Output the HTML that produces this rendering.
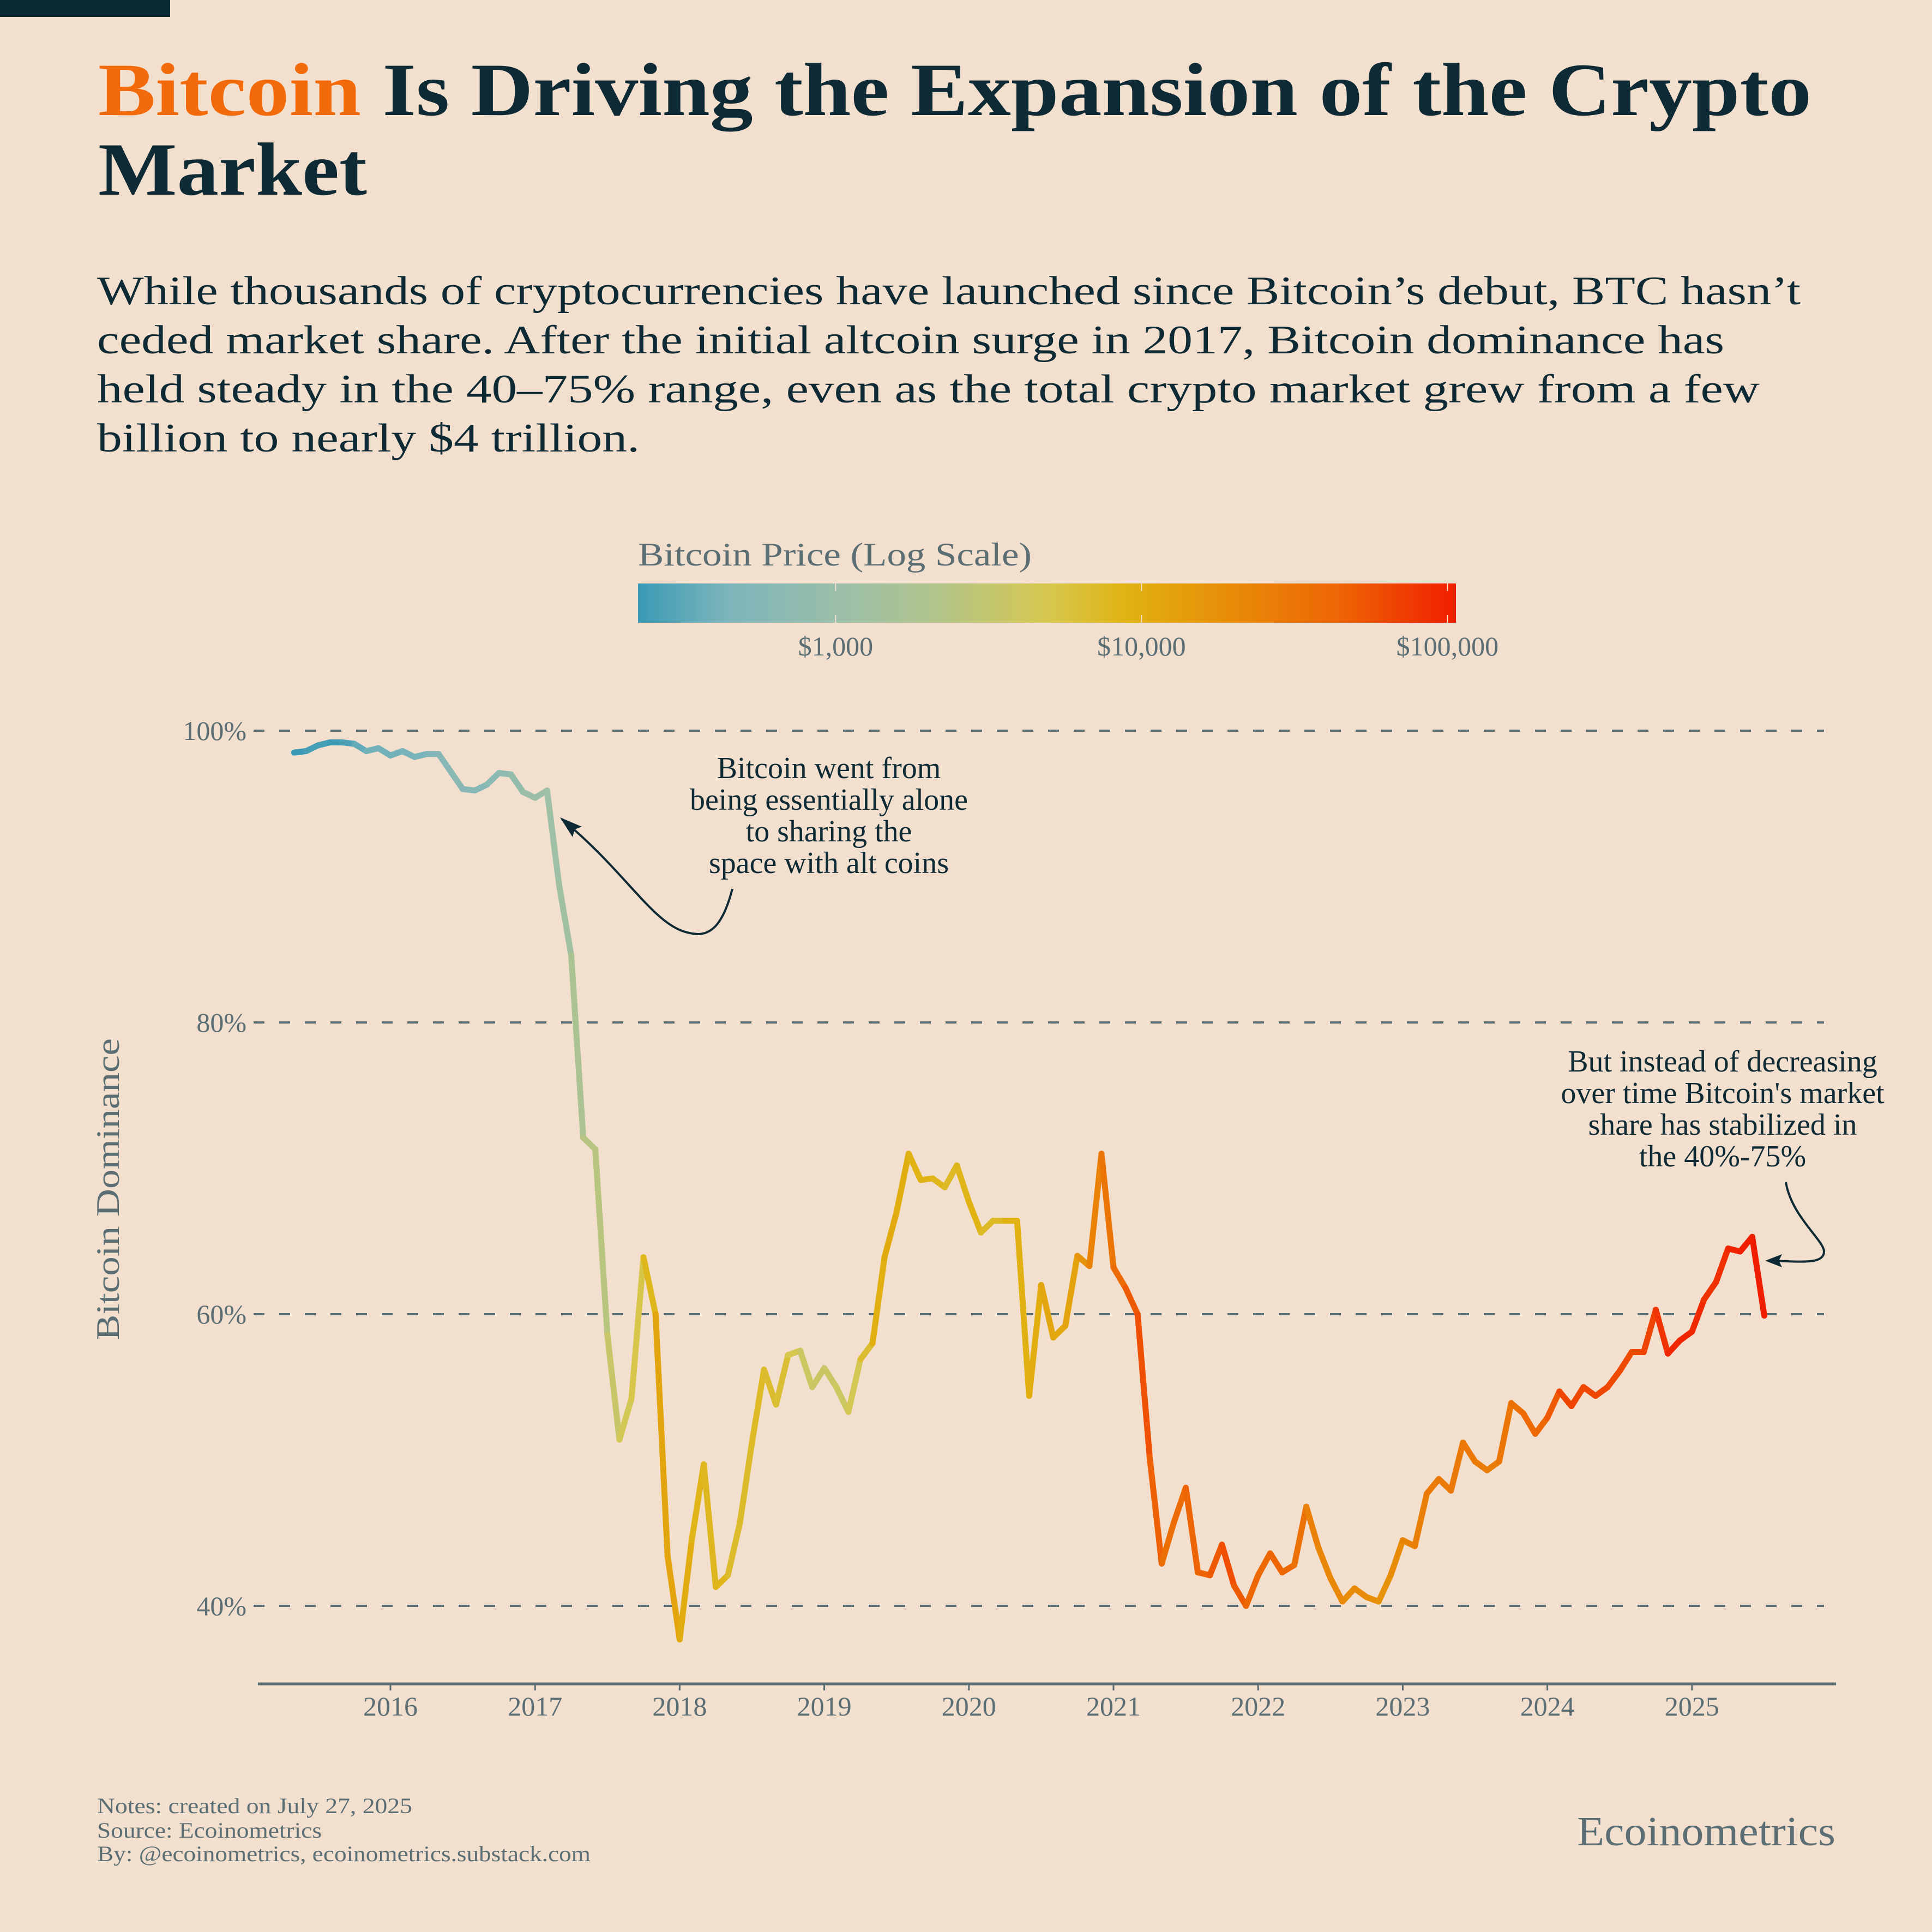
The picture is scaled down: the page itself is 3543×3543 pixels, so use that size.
<!DOCTYPE html>
<html><head><meta charset="utf-8">
<style>
html,body{margin:0;padding:0;background:#f2dfce;}
svg{display:block;}
text{font-family:"Liberation Serif",serif;}
</style></head>
<body>
<svg id="chart" width="3543" height="3543" viewBox="0 0 3543 3543" xmlns="http://www.w3.org/2000/svg">
<defs>
<linearGradient id="cbar" x1="0" x2="1" y1="0" y2="0">
<stop offset="0" stop-color="#3a9ab5"/>
<stop offset="0.11" stop-color="#7db5bb"/>
<stop offset="0.25" stop-color="#9cbfa8"/>
<stop offset="0.36" stop-color="#b0c48c"/>
<stop offset="0.5" stop-color="#d6c850"/>
<stop offset="0.6" stop-color="#e0b210"/>
<stop offset="0.73" stop-color="#e88a08"/>
<stop offset="0.86" stop-color="#ee6405"/>
<stop offset="1" stop-color="#f01e00"/>
</linearGradient>
</defs>
<rect x="0" y="0" width="3543" height="3543" fill="#f2dfce"/>
<rect x="0" y="0" width="312" height="31" fill="#0a2a35"/>
<text x="180" y="211" font-size="138" font-weight="bold" fill="#0e2a35" textLength="3142" lengthAdjust="spacingAndGlyphs"><tspan fill="#f26a0a">Bitcoin</tspan> Is Driving the Expansion of the Crypto</text>
<text x="180" y="357" font-size="138" font-weight="bold" fill="#0e2a35" textLength="493" lengthAdjust="spacingAndGlyphs">Market</text>
<g font-size="74" fill="#0e2a35">
<text x="178" y="558" textLength="3124" lengthAdjust="spacingAndGlyphs">While thousands of cryptocurrencies have launched since Bitcoin’s debut, BTC hasn’t</text>
<text x="178" y="648" textLength="2984" lengthAdjust="spacingAndGlyphs">ceded market share. After the initial altcoin surge in 2017, Bitcoin dominance has</text>
<text x="178" y="738" textLength="3049" lengthAdjust="spacingAndGlyphs">held steady in the 40–75% range, even as the total crypto market grew from a few</text>
<text x="178" y="828" textLength="995" lengthAdjust="spacingAndGlyphs">billion to nearly $4 trillion.</text>
</g>
<text x="1170" y="1037" font-size="60" fill="#5a6e74" textLength="722" lengthAdjust="spacingAndGlyphs">Bitcoin Price (Log Scale)</text>
<rect x="1170" y="1070" width="1500" height="72" fill="url(#cbar)"/>
<g id="cbticks"></g>
<g id="grid"></g>
<g id="axes"></g>
<g id="series"></g>
<text transform="translate(218,2181) rotate(-90)" text-anchor="middle" font-size="60" fill="#5a6e74" textLength="554" lengthAdjust="spacingAndGlyphs">Bitcoin Dominance</text>
<g font-size="56" fill="#0e2a35" text-anchor="middle">
<text x="1520" y="1427">Bitcoin went from</text>
<text x="1520" y="1485">being essentially alone</text>
<text x="1520" y="1543">to sharing the</text>
<text x="1520" y="1601">space with alt coins</text>
</g>
<path d="M1343,1630 C1325,1700 1300,1720 1265,1711 C1200,1700 1150,1600 1030,1502" fill="none" stroke="#0e2a35" stroke-width="4"/>
<path d="M1027,1499 L1067,1516 L1054,1521 L1050,1535 Z" fill="#0e2a35"/>
<g font-size="56" fill="#0e2a35" text-anchor="middle">
<text x="3159" y="1965">But instead of decreasing</text>
<text x="3159" y="2023">over time Bitcoin's market</text>
<text x="3159" y="2081">share has stabilized in</text>
<text x="3159" y="2139">the 40%-75%</text>
</g>
<path d="M3275,2168 C3285,2230 3345,2275 3345,2295 C3345,2320 3300,2313 3245,2312" fill="none" stroke="#0e2a35" stroke-width="4"/>
<path d="M3237,2312 L3268,2300 L3262,2312 L3268,2324 Z" fill="#0e2a35"/>
<g font-size="40" fill="#5a6e74">
<text x="178" y="3325" textLength="578" lengthAdjust="spacingAndGlyphs">Notes: created on July 27, 2025</text>
<text x="178" y="3370" textLength="412" lengthAdjust="spacingAndGlyphs">Source: Ecoinometrics</text>
<text x="178" y="3413" textLength="905" lengthAdjust="spacingAndGlyphs">By: @ecoinometrics, ecoinometrics.substack.com</text>
</g>
<text x="2892" y="3384" font-size="76" fill="#5a6e74" textLength="474" lengthAdjust="spacingAndGlyphs">Ecoinometrics</text>
</svg>
<script>
const startYear = 2015 + 4/12;
const dominance = [98.5,98.6,99.0,99.2,99.2,99.1,98.6,98.8,98.3,98.6,98.2,98.4,98.4,97.2,96.0,95.9,96.3,97.1,97.0,95.8,95.4,95.9,
89.4,84.6,72.1,71.3,58.6,51.4,54.2,63.9,60.0,43.4,
37.7,44.5,49.7,41.3,42.1,45.7,51.2,56.2,53.8,57.2,
57.5,55.0,56.3,55.0,53.3,56.9,58.0,63.9,67.0,71.0,
69.2,69.3,68.7,70.2,67.7,65.6,66.4,66.4,66.4,54.4,
62.0,58.4,59.2,64.0,63.3,71.0,63.2,61.8,60.0,50.2,
42.9,45.7,48.1,42.3,42.1,44.2,41.4,40.0,42.1,43.6,
42.3,42.8,46.8,44.0,41.9,40.3,41.2,40.6,40.3,42.1,
44.5,44.1,47.7,48.7,47.9,51.2,49.9,49.3,49.9,53.9,
53.2,51.8,52.9,54.7,53.7,55.0,54.4,55.0,56.1,57.4,
57.4,60.3,57.3,58.2,58.8,61.0,62.2,64.5,64.3,65.3,
59.9];
const prices = [230,225,280,230,235,315,375,430,
370,435,415,450,530,670,625,570,610,700,740,970,
1000,1190,1080,1350,2300,2400,2600,4700,4300,6400,10000,14000,
10200,10300,6900,9200,7500,6400,7700,7000,6600,6300,4000,3800,
3500,3800,4100,5300,8500,10800,10000,9600,8300,9200,7600,7200,
9300,8600,6400,8600,9500,9100,11300,11600,10800,13800,19700,29000,
33000,45000,58000,57000,37000,35000,41000,47000,43000,61000,57000,46000,
38000,43000,45000,38000,31500,20000,23000,20000,19500,20500,17000,16500,
23000,23500,28000,29000,27000,30500,29000,26000,27000,34500,37700,42300,
42500,61000,71000,60000,67000,62000,64600,59000,63000,70000,96000,93000,
102000,84000,82000,94000,104000,107000,115000];
const yTicks = [40,60,80,100];
const yTickLabels = ["40%","60%","80%","100%"];
const xTicks = [2016,2017,2018,2019,2020,2021,2022,2023,2024,2025];
const cbTicks = [1000,10000,100000];
const cbTickLabels = ["$1,000","$10,000","$100,000"];

const NS = "http://www.w3.org/2000/svg";
function X(t){ return 716 + (t-2016)*265.2; }
function Y(v){ return 2945 - (v-40)*26.75; }
const cbMin = Math.log10(226), cbMax = Math.log10(106600);
function CB(p){ return 1170 + (Math.log10(p)-cbMin)/(cbMax-cbMin)*1500; }
const stops = [[0,[58,154,181]],[0.11,[125,181,187]],[0.25,[156,191,168]],[0.36,[176,196,140]],[0.5,[214,200,80]],[0.6,[224,178,16]],[0.73,[232,138,8]],[0.86,[238,100,5]],[1,[240,30,0]]];
function color(p){
  let f=(Math.log10(p)-cbMin)/(cbMax-cbMin); f=Math.max(0,Math.min(1,f));
  for(let i=1;i<stops.length;i++){ if(f<=stops[i][0]){ const a=stops[i-1],b=stops[i]; const t=(f-a[0])/(b[0]-a[0]);
    return "rgb("+a[1].map((c,k)=>Math.round(c+(b[1][k]-c)*t)).join(",")+")"; } }
  return "rgb(240,30,0)";
}
function mk(tag,attrs,parent){ const e=document.createElementNS(NS,tag); for(const k in attrs) e.setAttribute(k,attrs[k]); parent.appendChild(e); return e; }

const cbG=document.getElementById("cbticks");
cbTicks.forEach((p,i)=>{
  const x=CB(p);
  const a=mk("line",{x1:x,x2:x,y1:1070,y2:1084,stroke:"#f2dfce","stroke-width":2},cbG);
  
  
  const b=mk("line",{x1:x,x2:x,y1:1128,y2:1142,stroke:"#f2dfce","stroke-width":2},cbG);
  
  
  const t=mk("text",{x:x,y:1202,"text-anchor":"middle","font-size":50,fill:"#5a6e74"},cbG);
  
  
  t.textContent=cbTickLabels[i];
});

const gG=document.getElementById("grid");
yTicks.forEach((v,i)=>{
  const y=Y(v);
  const l=mk("line",{x1:465,x2:3345,y1:y,y2:y,stroke:"#5c6f75","stroke-width":4,"stroke-dasharray":"20 27"},gG);
  
  
  const t=mk("text",{x:452,y:y+17,"text-anchor":"end","font-size":50,fill:"#5a6e74"},gG);
  
  
  t.textContent=yTickLabels[i];
});

const aG=document.getElementById("axes");
const ax=mk("line",{x1:473,x2:3367,y1:3088,y2:3088,stroke:"#5a6e74","stroke-width":5},aG);


xTicks.forEach(yr=>{
  const x=X(yr);
  const tk=mk("line",{x1:x,x2:x,y1:3088,y2:3100,stroke:"#5a6e74","stroke-width":3},aG);
  
  
  const t=mk("text",{x:x,y:3146,"text-anchor":"middle","font-size":50,fill:"#5a6e74"},aG);
  
  
  t.textContent=String(yr);
});

const sG=document.getElementById("series");
for(let i=1;i<dominance.length;i++){
  const t0=startYear+(i-1)/12, t1=startYear+i/12;
  const pm=Math.sqrt(prices[i-1]*prices[i]);
  const s=mk("line",{x1:X(t0),y1:Y(dominance[i-1]),x2:X(t1),y2:Y(dominance[i]),stroke:color(pm),"stroke-width":11,"stroke-linecap":"round"},sG);
  
  
}
</script>
</body></html>
